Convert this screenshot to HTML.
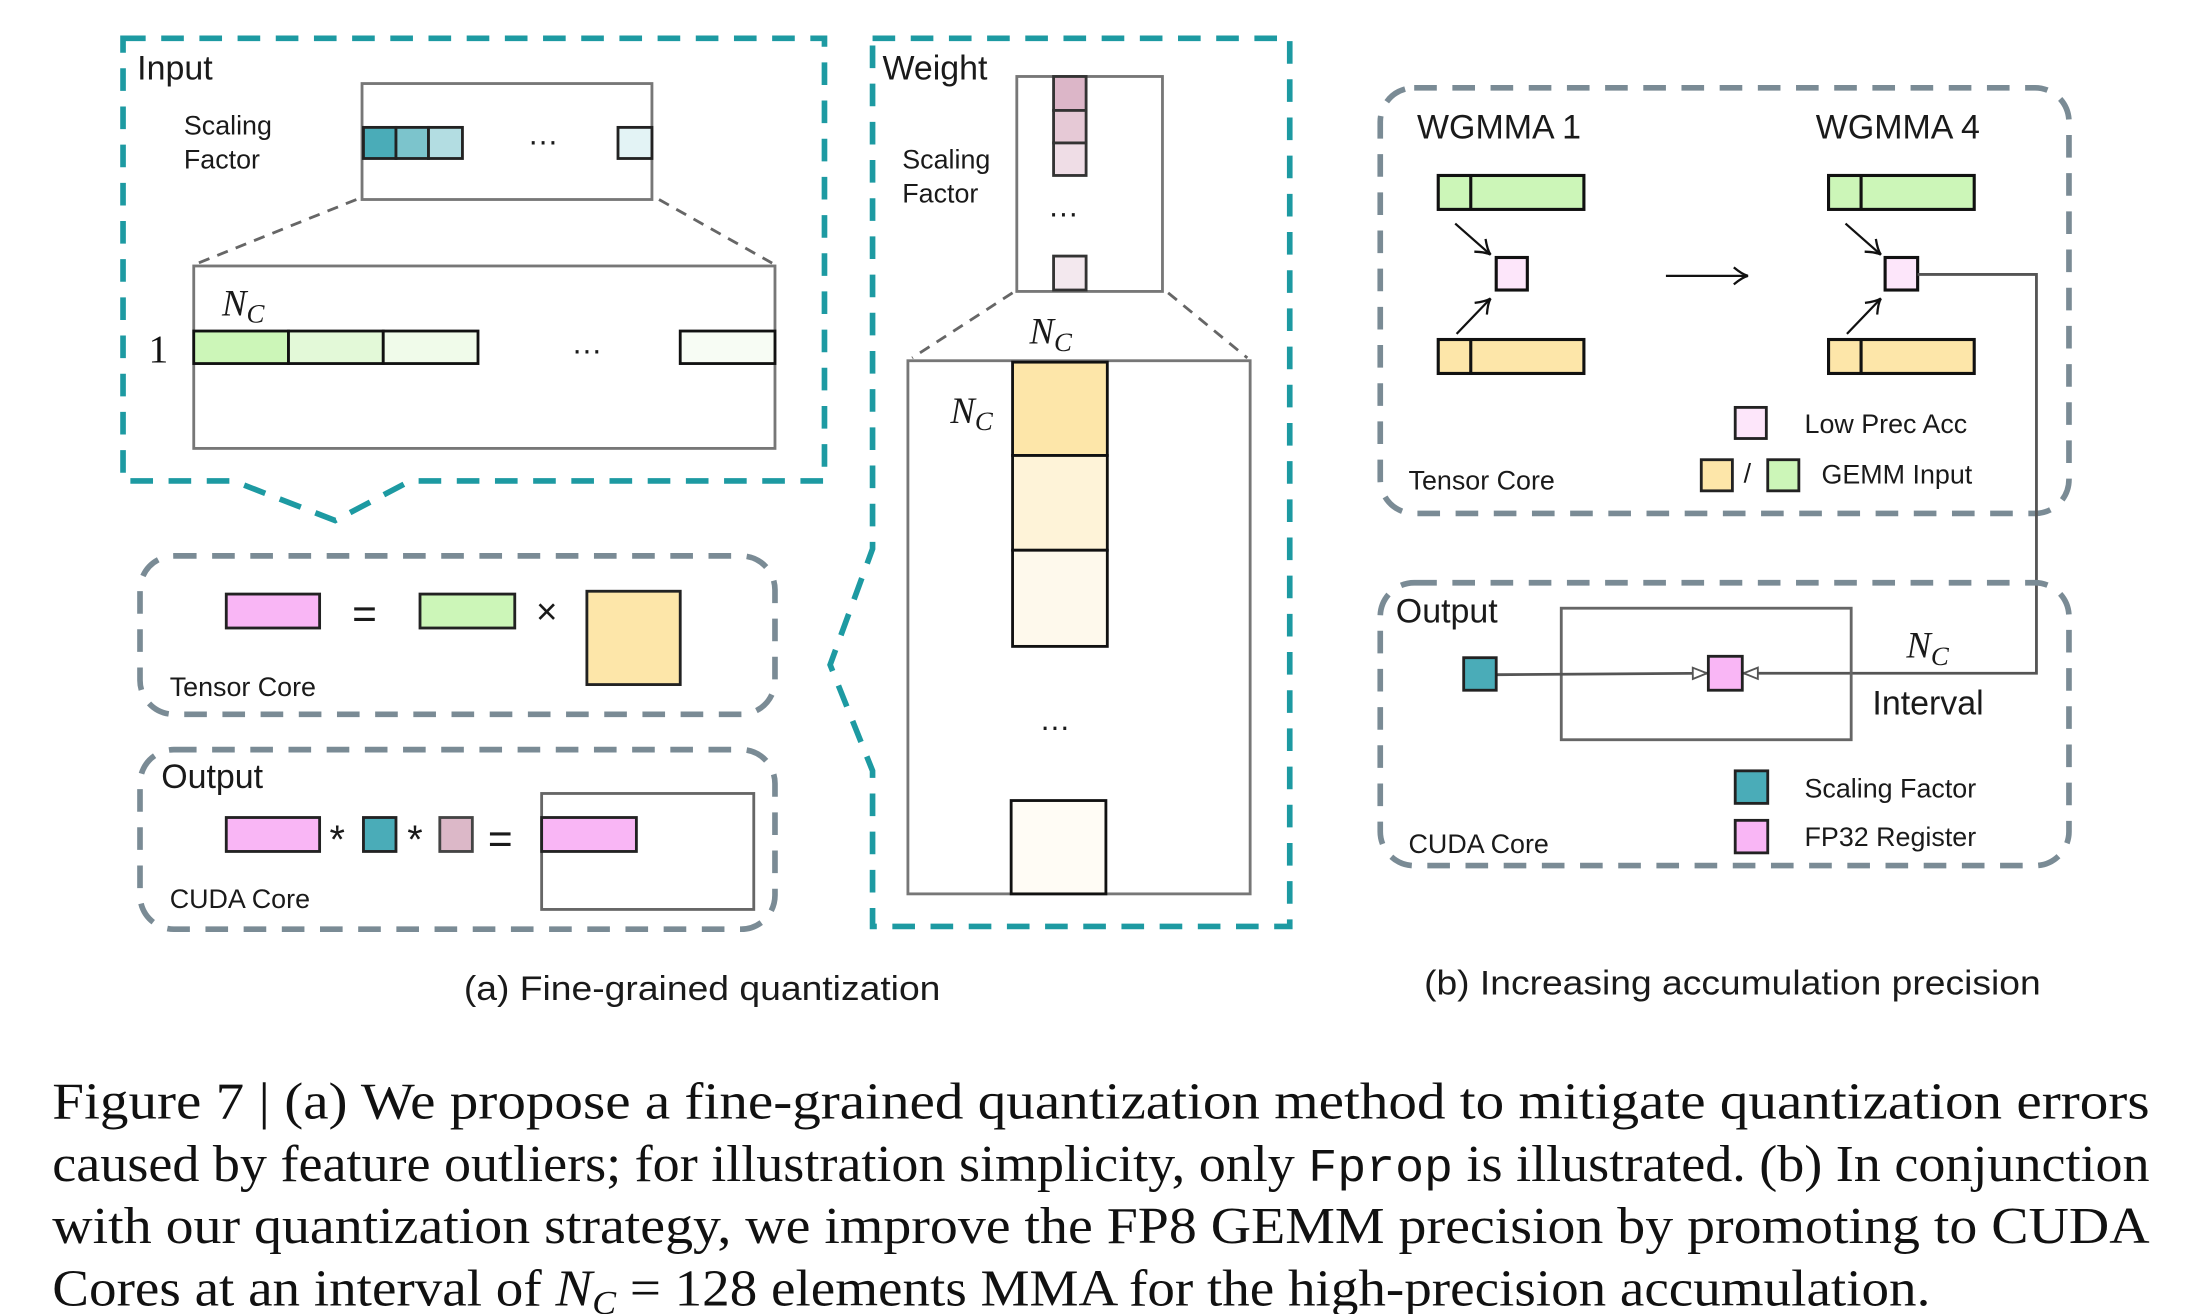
<!DOCTYPE html>
<html><head><meta charset="utf-8"><style>
html,body{margin:0;padding:0;background:#fff;width:2192px;height:1314px;overflow:hidden}
svg{display:block}
.s{font-family:"Liberation Sans",sans-serif;fill:#1a1a1a}
.m{font-family:"Liberation Serif",serif;font-style:italic;fill:#1a1a1a}
.c{font-family:"Liberation Serif",serif;fill:#111;font-size:37px}
</style></head><body>
<svg width="2192" height="1314" viewBox="0 0 1550 929" xmlns="http://www.w3.org/2000/svg">
<defs>
<marker id="oa" markerWidth="12" markerHeight="10" refX="11" refY="5" orient="auto" markerUnits="userSpaceOnUse"><path d="M1,1 L11,5 L1,9 Z" fill="#fff" stroke="#555" stroke-width="1.3"/></marker>
<marker id="ca" markerWidth="14" markerHeight="14" refX="12" refY="7" orient="auto" markerUnits="userSpaceOnUse"><path d="M2,1 Q8,6 12,7 Q8,8 2,13" fill="none" stroke="#111" stroke-width="1.6"/></marker>
</defs>
<path d="M87,27 L583,27 L583,340 L290,340 L237,368 L165,340 L87,340 Z" fill="none" stroke="#1d9aa2" stroke-width="4" stroke-dasharray="16,11"/>
<text x="97" y="56" class="s" font-size="24">Input</text>
<text x="130" y="95" class="s" font-size="19">Scaling</text>
<text x="130" y="119" class="s" font-size="19">Factor</text>
<rect x="256" y="59" width="205" height="82" fill="#fff" stroke="#777" stroke-width="2"/>
<rect x="257" y="90" width="23" height="22" fill="#4aacb8" stroke="#222" stroke-width="2"/>
<rect x="280" y="90" width="23" height="22" fill="#7cc4cc" stroke="#222" stroke-width="2"/>
<rect x="303" y="90" width="24" height="22" fill="#b3dde2" stroke="#222" stroke-width="2"/>
<rect x="437" y="90" width="24" height="22" fill="#e3f3f5" stroke="#222" stroke-width="2"/>
<text x="373" y="102" class="s" font-size="22">…</text>
<line x1="252" y1="141" x2="140" y2="186" stroke="#666" stroke-width="2" stroke-dasharray="8,6"/>
<line x1="466" y1="141" x2="546" y2="186" stroke="#666" stroke-width="2" stroke-dasharray="8,6"/>
<rect x="137" y="188" width="411" height="129" fill="#fff" stroke="#777" stroke-width="2"/>
<rect x="137" y="234" width="67" height="23" fill="#ccf6b8" stroke="#111" stroke-width="2"/>
<rect x="204" y="234" width="67" height="23" fill="#e3f9d8" stroke="#111" stroke-width="2"/>
<rect x="271" y="234" width="67" height="23" fill="#f0fbea" stroke="#111" stroke-width="2"/>
<rect x="481" y="234" width="67" height="23" fill="#f7fcf4" stroke="#111" stroke-width="2"/>
<text x="404" y="250" class="s" font-size="22">…</text>
<text x="105" y="256" font-family="Liberation Serif,serif" font-size="28" fill="#111">1</text>
<text x="157" y="223" class="m" font-size="26">N<tspan font-size="19" dy="5">C</tspan></text>
<rect x="99" y="393" width="449" height="112" rx="24" fill="none" stroke="#7a8b95" stroke-width="4" stroke-dasharray="16,11"/>
<rect x="160" y="420" width="66" height="24" fill="#f9b6f5" stroke="#222" stroke-width="2"/>
<text x="249" y="444" class="s" font-size="30">=</text>
<rect x="297" y="420" width="67" height="24" fill="#ccf6b8" stroke="#222" stroke-width="2"/>
<text x="379" y="441" class="s" font-size="26">×</text>
<rect x="415" y="418" width="66" height="66" fill="#fde6a9" stroke="#222" stroke-width="2"/>
<text x="120" y="492" class="s" font-size="19">Tensor Core</text>
<rect x="99" y="530" width="449" height="127" rx="24" fill="none" stroke="#7a8b95" stroke-width="4" stroke-dasharray="16,11"/>
<text x="114" y="557" class="s" font-size="24">Output</text>
<rect x="160" y="578" width="66" height="24" fill="#f9b6f5" stroke="#222" stroke-width="2"/>
<text x="233" y="603" class="s" font-size="28">*</text>
<rect x="257" y="578" width="23" height="24" fill="#4aacb8" stroke="#222" stroke-width="2"/>
<text x="288" y="603" class="s" font-size="28">*</text>
<rect x="311" y="578" width="23" height="24" fill="#dcb8c8" stroke="#444" stroke-width="2"/>
<text x="345" y="603" class="s" font-size="30">=</text>
<rect x="383" y="561" width="150" height="82" fill="#fff" stroke="#666" stroke-width="2"/>
<rect x="383" y="578" width="67" height="24" fill="#f9b6f5" stroke="#222" stroke-width="2"/>
<text x="120" y="642" class="s" font-size="19">CUDA Core</text>
<path d="M617,27 L912,27 L912,655 L617,655 L617,545 L587,470 L617,388 Z" fill="none" stroke="#1d9aa2" stroke-width="4" stroke-dasharray="16,11"/>
<text x="624" y="56" class="s" font-size="24">Weight</text>
<text x="638" y="119" class="s" font-size="19">Scaling</text>
<text x="638" y="143" class="s" font-size="19">Factor</text>
<rect x="719" y="54" width="103" height="152" fill="#fff" stroke="#777" stroke-width="2"/>
<rect x="745" y="54" width="23" height="24" fill="#dcb6c8" stroke="#333" stroke-width="2"/>
<rect x="745" y="78" width="23" height="23" fill="#e6c9d6" stroke="#333" stroke-width="2"/>
<rect x="745" y="101" width="23" height="23" fill="#efdde6" stroke="#333" stroke-width="2"/>
<rect x="745" y="181" width="23" height="24" fill="#f3e8ee" stroke="#333" stroke-width="2"/>
<text x="741" y="153" class="s" font-size="22">…</text>
<line x1="716" y1="207" x2="645" y2="253" stroke="#666" stroke-width="2" stroke-dasharray="8,6"/>
<line x1="826" y1="207" x2="882" y2="253" stroke="#666" stroke-width="2" stroke-dasharray="8,6"/>
<rect x="642" y="255" width="242" height="377" fill="#fff" stroke="#777" stroke-width="2"/>
<text x="728" y="243" class="m" font-size="26">N<tspan font-size="19" dy="5">C</tspan></text>
<text x="672" y="299" class="m" font-size="26">N<tspan font-size="19" dy="5">C</tspan></text>
<rect x="716" y="256" width="67" height="66" fill="#fde6a9" stroke="#111" stroke-width="2"/>
<rect x="716" y="322" width="67" height="67" fill="#fef3d8" stroke="#111" stroke-width="2"/>
<rect x="716" y="389" width="67" height="68" fill="#fef9ec" stroke="#111" stroke-width="2"/>
<rect x="715" y="566" width="67" height="66" fill="#fffcf5" stroke="#111" stroke-width="2"/>
<text x="735" y="516" class="s" font-size="22">…</text>
<rect x="976" y="62" width="487" height="301" rx="24" fill="none" stroke="#7a8b95" stroke-width="4" stroke-dasharray="16,11"/>
<text x="1002" y="98" class="s" font-size="24">WGMMA 1</text>
<text x="1284" y="98" class="s" font-size="24">WGMMA 4</text>
<g stroke="#111" stroke-width="2.2">
<rect x="1017" y="124" width="103" height="24" fill="#ccf6b8"/><line x1="1040" y1="124" x2="1040" y2="148"/>
<rect x="1017" y="240" width="103" height="24" fill="#fde6a9"/><line x1="1040" y1="240" x2="1040" y2="264"/>
<rect x="1058" y="182" width="22" height="23" fill="#fde6fa"/>
<rect x="1293" y="124" width="103" height="24" fill="#ccf6b8"/><line x1="1316" y1="124" x2="1316" y2="148"/>
<rect x="1293" y="240" width="103" height="24" fill="#fde6a9"/><line x1="1316" y1="240" x2="1316" y2="264"/>
<rect x="1333" y="182" width="23" height="23" fill="#fde6fa"/>
</g>
<g stroke="#111" stroke-width="1.6" fill="none" marker-end="url(#ca)">
<line x1="1029" y1="158" x2="1054" y2="180"/>
<line x1="1030" y1="236" x2="1054" y2="211"/>
<line x1="1305" y1="158" x2="1330" y2="180"/>
<line x1="1306" y1="236" x2="1330" y2="211"/>
<line x1="1178" y1="195" x2="1236" y2="195"/>
</g>
<polyline points="1356,194 1440,194 1440,476 1233,476" fill="none" stroke="#555" stroke-width="2" marker-end="url(#oa)"/>
<rect x="1227" y="288" width="22" height="22" fill="#fde6fa" stroke="#222" stroke-width="2"/>
<text x="1276" y="306" class="s" font-size="19">Low Prec Acc</text>
<rect x="1203" y="325" width="22" height="22" fill="#fde6a9" stroke="#222" stroke-width="2"/>
<text x="1233" y="341" class="s" font-size="19">/</text>
<rect x="1250" y="325" width="22" height="22" fill="#ccf6b8" stroke="#222" stroke-width="2"/>
<text x="1288" y="342" class="s" font-size="19">GEMM Input</text>
<text x="996" y="346" class="s" font-size="19">Tensor Core</text>
<rect x="976" y="412" width="487" height="200" rx="24" fill="none" stroke="#7a8b95" stroke-width="4" stroke-dasharray="16,11"/>
<text x="987" y="440" class="s" font-size="24">Output</text>
<rect x="1104" y="430" width="205" height="93" fill="none" stroke="#666" stroke-width="2"/>
<line x1="1058" y1="477" x2="1207" y2="476" stroke="#555" stroke-width="2" marker-end="url(#oa)"/>
<rect x="1035" y="465" width="23" height="23" fill="#4aacb8" stroke="#222" stroke-width="2"/>
<rect x="1208" y="464" width="24" height="24" fill="#f9b6f5" stroke="#222" stroke-width="2"/>
<text x="1348" y="465" class="m" font-size="26">N<tspan font-size="19" dy="5">C</tspan></text>
<text x="1324" y="505" class="s" font-size="24">Interval</text>
<rect x="1227" y="545" width="23" height="23" fill="#4aacb8" stroke="#222" stroke-width="2"/>
<text x="1276" y="564" class="s" font-size="19">Scaling Factor</text>
<rect x="1227" y="580" width="23" height="23" fill="#f9b6f5" stroke="#222" stroke-width="2"/>
<text x="1276" y="598" class="s" font-size="19">FP32 Register</text>
<text x="996" y="603" class="s" font-size="19">CUDA Core</text>
<text x="328" y="707" class="s" font-size="24" textLength="337" lengthAdjust="spacingAndGlyphs">(a) Fine-grained quantization</text>
<text x="1007" y="703" class="s" font-size="24" textLength="436" lengthAdjust="spacingAndGlyphs">(b) Increasing accumulation precision</text>
<text x="37" y="791" class="c" textLength="1483" lengthAdjust="spacingAndGlyphs">Figure 7 | (a) We propose a fine-grained quantization method to mitigate quantization errors</text>
<text x="37" y="835" class="c" textLength="1483" lengthAdjust="spacingAndGlyphs">caused by feature outliers; for illustration simplicity, only <tspan font-family="Liberation Mono,monospace" font-size="33">Fprop</tspan> is illustrated. (b) In conjunction</text>
<text x="37" y="879" class="c" textLength="1483" lengthAdjust="spacingAndGlyphs">with our quantization strategy, we improve the FP8 GEMM precision by promoting to CUDA</text>
<text x="37" y="923" class="c" textLength="1328" lengthAdjust="spacingAndGlyphs">Cores at an interval of <tspan font-style="italic">N</tspan><tspan font-style="italic" font-size="24" dy="6">C</tspan><tspan dy="-6"> = 128 elements MMA for the high-precision accumulation.</tspan></text>
</svg>
</body></html>
